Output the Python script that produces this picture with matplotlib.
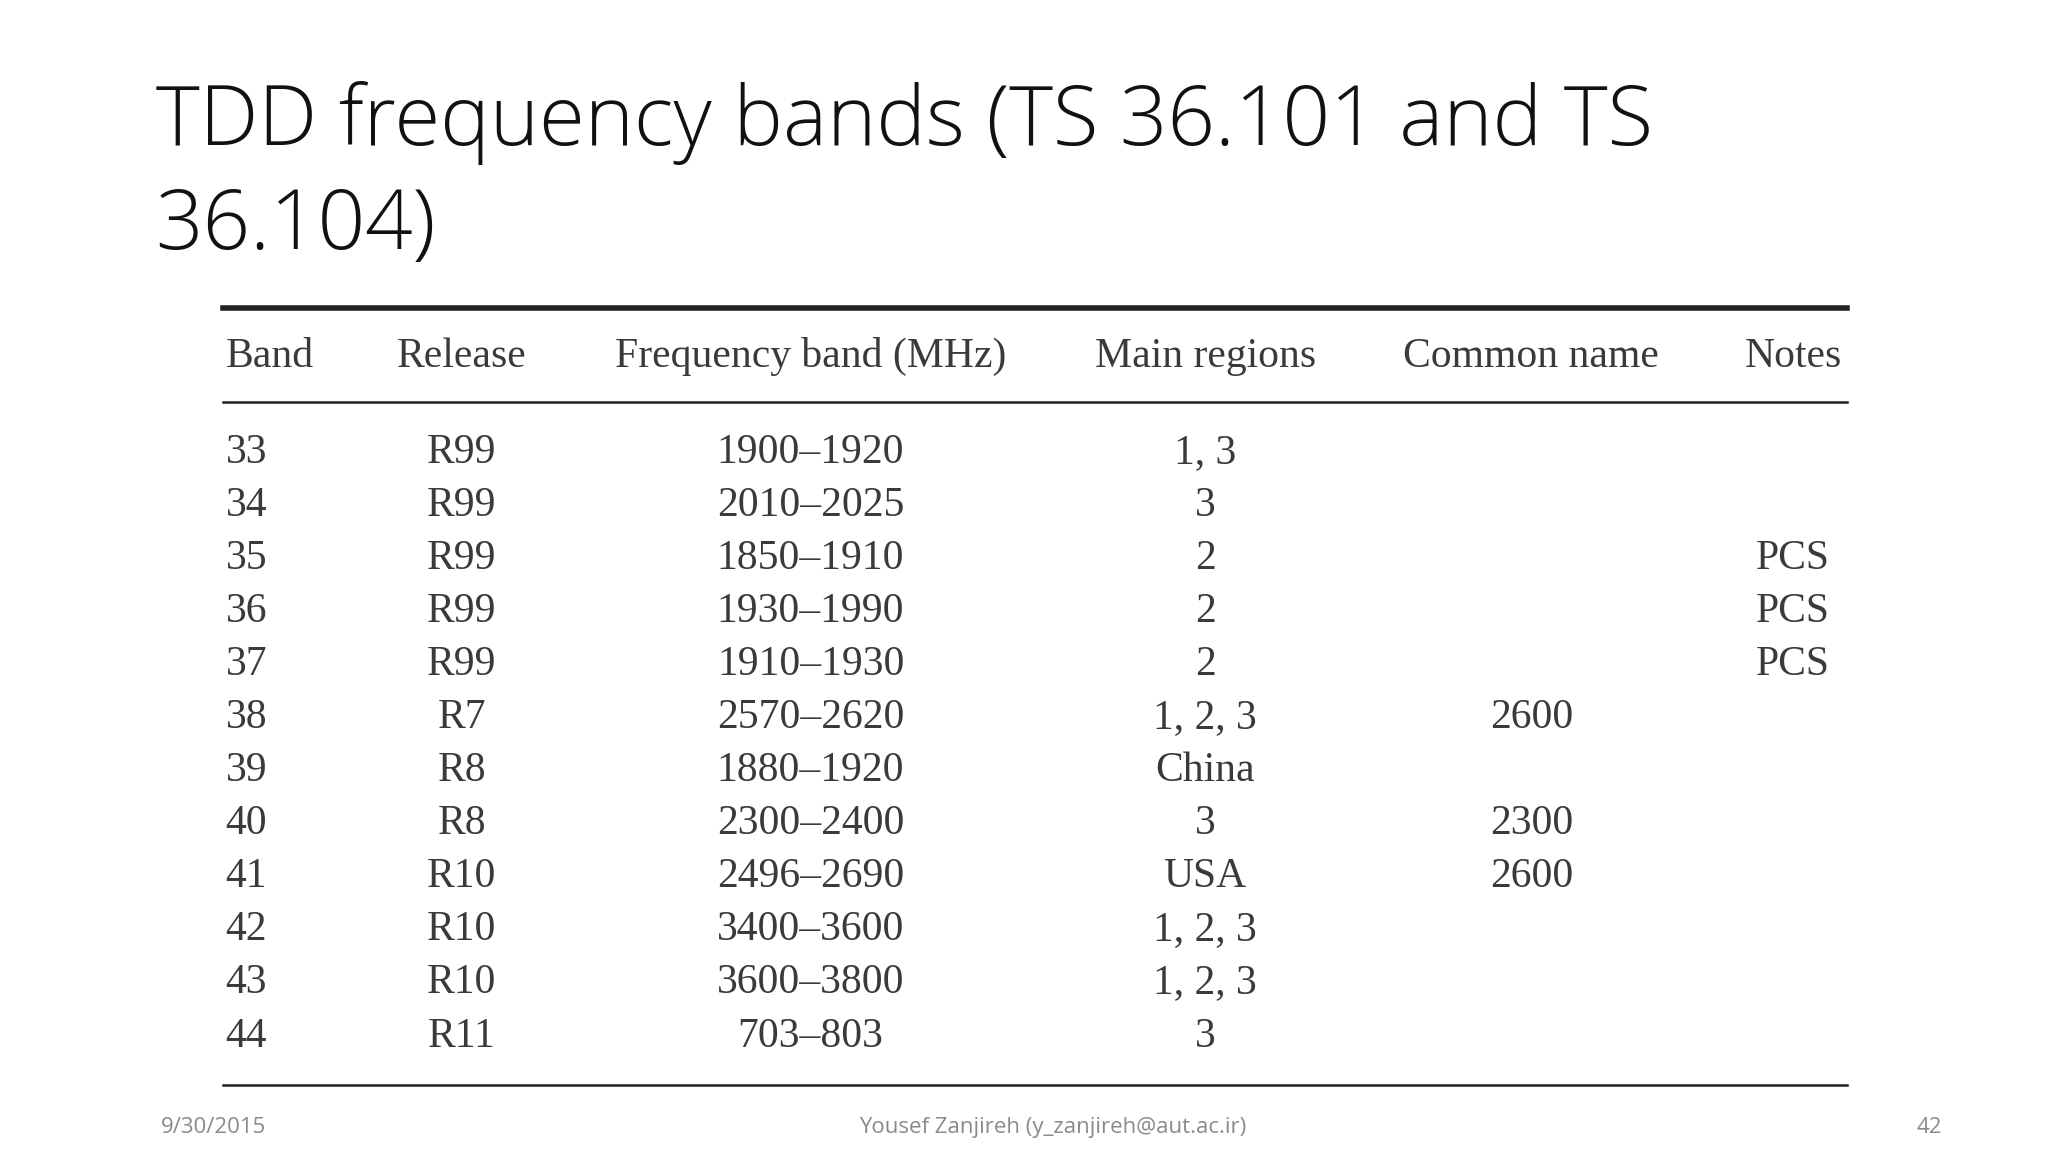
import matplotlib

matplotlib.use("Agg", force=True)
import matplotlib.pyplot as plt
from matplotlib.lines import Line2D

# table content
headers = ["Band", "Release", "Frequency band (MHz)", "Main regions", "Common name", "Notes"]
bands = ["33", "34", "35", "36", "37", "38", "39", "40", "41", "42", "43", "44"]
releases = ["R99", "R99", "R99", "R99", "R99", "R7", "R8", "R8", "R10", "R10", "R10", "R11"]
freqs = ["1900\u20131920", "2010\u20132025", "1850\u20131910", "1930\u20131990", "1910\u20131930",
         "2570\u20132620", "1880\u20131920", "2300\u20132400", "2496\u20132690", "3400\u20133600",
         "3600\u20133800", "703\u2013803"]
regions = ["1, 3", "3", "2", "2", "2", "1, 2, 3", "China", "3", "USA", "1, 2, 3", "1, 2, 3", "3"]
common = ["", "", "", "", "", "2600", "", "2300", "2600", "", "", ""]
notes = ["", "", "PCS", "PCS", "PCS", "", "", "", "", "", "", ""]

W, H = 1526.0, 860.0  # layout measured on the reference, converted to fractions


def fx(x):
    return x / W


def fy(y):
    return 1 - y / H


fig = plt.figure(figsize=(20.48, 11.52), dpi=100)
fig.patch.set_facecolor("white")

title_kw = dict(family=["Open Sans", "DejaVu Sans"], fontweight="light", fontsize=60,
                color="#111111", va="center", ha="left")
fig.text(fx(116), fy(92), "TDD frequency bands (TS 36.101 and TS", **title_kw)
fig.text(fx(116), fy(170), "36.104)", **title_kw)

serif = ["Liberation Serif", "DejaVu Serif"]
tcol = "#3a3a3a"
for y, lw in [(230, 4.0), (300, 1.8), (810, 1.8)]:
    fig.add_artist(Line2D([fx(166), fx(1376)], [fy(y), fy(y)], color="#222222", lw=lw))

col_x = [168, 344, 604, 898, 1141, 1336]
col_ha = ["left", "center", "center", "center", "center", "center"]
for i, h in enumerate(headers):
    fig.text(fx(col_x[i]), fy(266), h, family=serif, fontsize=30, color=tcol,
             ha=col_ha[i], va="center")

columns = [bands, releases, freqs, regions, common, notes]
row_y0, row_step = 338, 39.6
for r in range(len(bands)):
    y = fy(row_y0 + r * row_step)
    for c, col in enumerate(columns):
        if col[r]:
            fig.text(fx(col_x[c]), y, col[r], family=serif, fontsize=30, color=tcol,
                     ha=col_ha[c], va="center")

foot_kw = dict(family=["Open Sans", "DejaVu Sans"], fontsize=16, color="#8a8a8a", va="center")
fig.text(fx(120), fy(842), "9/30/2015", ha="left", **foot_kw)
fig.text(fx(784), fy(842), "Yousef Zanjireh (y_zanjireh@aut.ac.ir)", ha="center", **foot_kw)
fig.text(fx(1447), fy(842), "42", ha="right", **foot_kw)

fig.savefig("out.png", dpi=100)
